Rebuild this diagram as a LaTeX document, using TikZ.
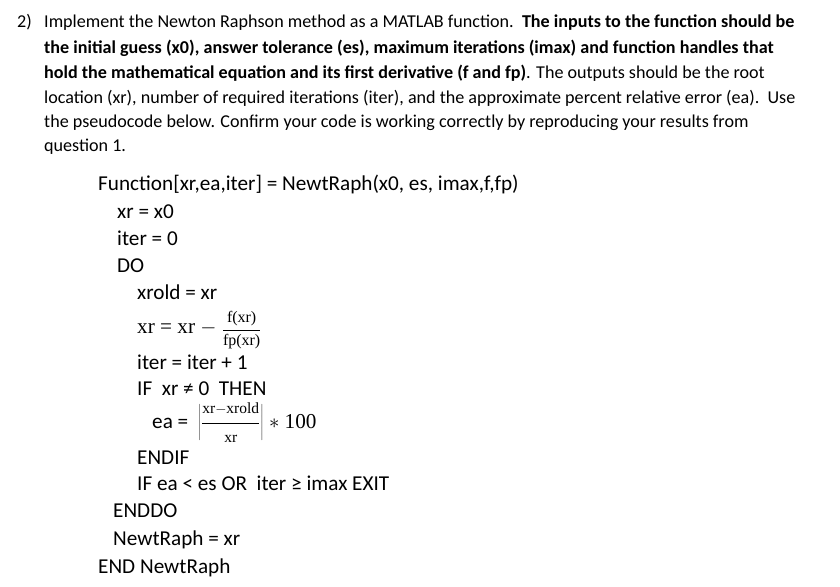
\documentclass[tikz,border=0pt]{standalone}
\usepackage{fontspec}
\setmainfont{Carlito}
\newfontfamily\mathserif{Liberation Serif}
\begin{document}
\begin{tikzpicture}[x=1pt,y=-1pt,
  para/.style={anchor=base west,inner sep=0pt,font=\fontsize{18.1}{20}\selectfont},
  code/.style={anchor=base west,inner sep=0pt,font=\fontsize{21.2}{24}\selectfont}]
\useasboundingbox (0,0) rectangle (840,586);
\node[para] (n) at (17,28) {2)};
\node[para] (p1) at (44,28) {Implement the Newton Raphson method as a MATLAB function.\ \ \textbf{The inputs to the function should be}};
\node[para] (p2) at (44,53) {\textbf{the initial guess (x0), answer tolerance (es), maximum iterations (imax) and function handles that}};
\node[para] (p3) at (44,78) {\textbf{hold the mathematical equation and its first derivative (f and fp)}. The outputs should be the root};
\node[para] (p4) at (44,103) {location (xr), number of required iterations (iter), and the approximate percent relative error (ea).\ \ Use};
\node[para] (p5) at (44,127) {the pseudocode below. Confirm your code is working correctly by reproducing your results from};
\node[para] (p6) at (44,151) {question 1.};
\node[code] (c1) at (98,190) {Function[xr,ea,iter] = NewtRaph(x0, es, imax,f,fp)};
\node[code] (c2) at (117,218) {xr = x0};
\node[code] (c3) at (117,245) {iter = 0};
\node[code] (c4) at (117,272) {DO};
\node[code] (c5) at (137,299) {xrold = xr};
\node[code] (c6) at (137,333) {\mathserif xr = xr $-$ \raisebox{-0.05em}{\fontsize{16}{17}\selectfont$\displaystyle\frac{\hbox{f(xr)}}{\hbox{fp(xr)}}$}};
\node[code] (c7) at (137,369) {iter = iter + 1};
\node[code] (c8) at (137,395) {IF\ \ xr ≠ 0\ \ THEN};
\node[code] (c9) at (152,428) {ea = \ {\mathserif$\displaystyle\left|\fontsize{15.5}{16}\selectfont\frac{\hbox{xr$-$xrold}}{\hbox{xr}}\right|$ $*$ 100}};
\node[code] (c10) at (137,464) {ENDIF};
\node[code] (c11) at (137,490) {IF ea < es OR\ \ iter ≥ imax EXIT};
\node[code] (c12) at (113,517) {ENDDO};
\node[code] (c13) at (113,545) {NewtRaph = xr};
\node[code] (c14) at (98,573) {END NewtRaph};
\end{tikzpicture}
\end{document}
